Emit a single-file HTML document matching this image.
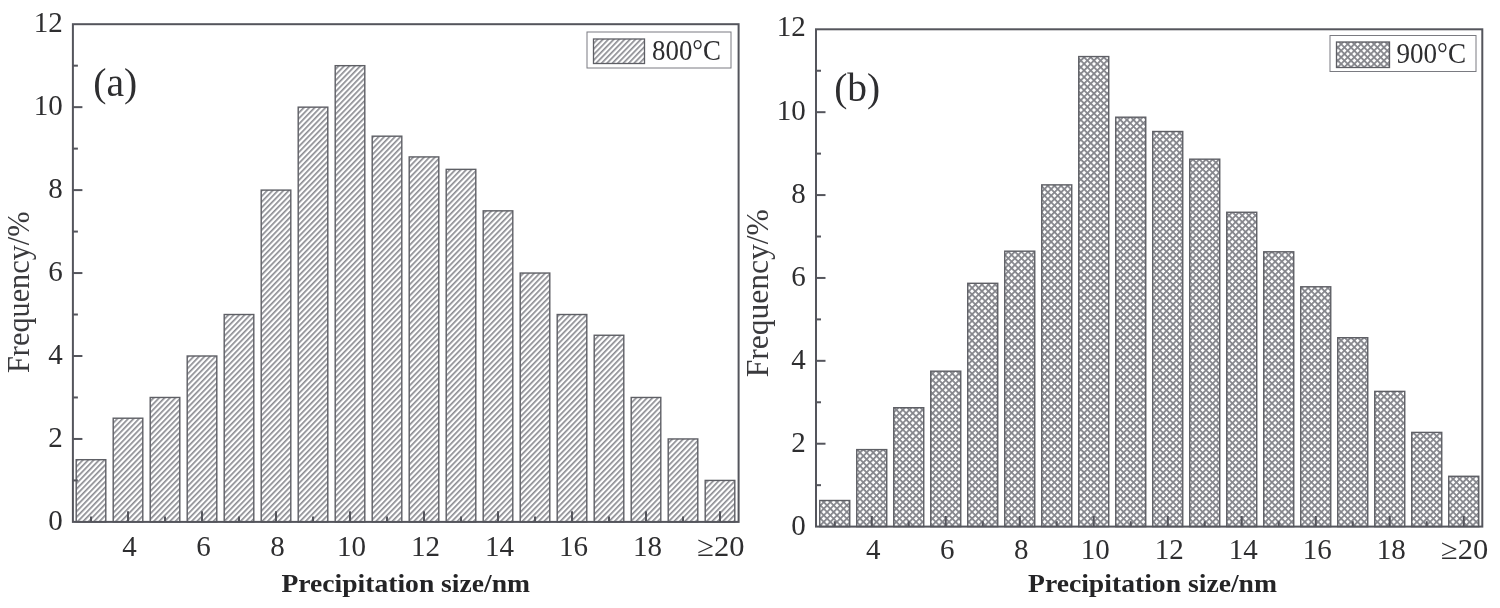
<!DOCTYPE html>
<html lang="en"><head><meta charset="utf-8"><title>Precipitation size distribution</title>
<style>
html,body{margin:0;padding:0;background:#fff;}
body{width:1500px;height:608px;overflow:hidden;}
svg{display:block;}
text{font-family:"Liberation Serif","Times New Roman",serif;fill:#2e2e30;}
.tk{font-size:29px;}
.lg{font-size:29.5px;}
.pl{font-size:40.5px;}
.xt{font-size:26px;font-weight:bold;fill:#242426;}
.yt{font-size:30.5px;fill:#3a3a3d;}
</style></head><body>
<svg width="1500" height="608" viewBox="0 0 1500 608">
<defs>
<pattern id="ha" width="3.9" height="3.9" patternUnits="userSpaceOnUse" patternTransform="rotate(-46)">
<rect width="3.9" height="3.9" fill="#fff"/><rect x="0" y="0" width="3.9" height="1.65" fill="#8a8b91"/>
</pattern>
<pattern id="hb" width="4.66" height="4.66" patternUnits="userSpaceOnUse" patternTransform="rotate(45)">
<rect width="4.66" height="4.66" fill="#fff"/><rect x="0" y="0" width="4.66" height="1.75" fill="#84858b"/><rect x="0" y="0" width="1.75" height="4.66" fill="#84858b"/>
</pattern>
</defs>
<rect width="1500" height="608" fill="#fff"/>
<g id="chart-a">
<rect x="76.20" y="459.69" width="29.60" height="62.21" fill="url(#ha)" stroke="#5e5f65" stroke-width="1.4"/>
<rect x="113.20" y="418.21" width="29.60" height="103.69" fill="url(#ha)" stroke="#5e5f65" stroke-width="1.4"/>
<rect x="150.20" y="397.47" width="29.60" height="124.43" fill="url(#ha)" stroke="#5e5f65" stroke-width="1.4"/>
<rect x="187.20" y="356.00" width="29.60" height="165.90" fill="url(#ha)" stroke="#5e5f65" stroke-width="1.4"/>
<rect x="224.20" y="314.52" width="29.60" height="207.38" fill="url(#ha)" stroke="#5e5f65" stroke-width="1.4"/>
<rect x="261.20" y="190.10" width="29.60" height="331.80" fill="url(#ha)" stroke="#5e5f65" stroke-width="1.4"/>
<rect x="298.20" y="107.15" width="29.60" height="414.75" fill="url(#ha)" stroke="#5e5f65" stroke-width="1.4"/>
<rect x="335.20" y="65.67" width="29.60" height="456.23" fill="url(#ha)" stroke="#5e5f65" stroke-width="1.4"/>
<rect x="372.20" y="136.18" width="29.60" height="385.72" fill="url(#ha)" stroke="#5e5f65" stroke-width="1.4"/>
<rect x="409.20" y="156.92" width="29.60" height="364.98" fill="url(#ha)" stroke="#5e5f65" stroke-width="1.4"/>
<rect x="446.20" y="169.36" width="29.60" height="352.54" fill="url(#ha)" stroke="#5e5f65" stroke-width="1.4"/>
<rect x="483.20" y="210.84" width="29.60" height="311.06" fill="url(#ha)" stroke="#5e5f65" stroke-width="1.4"/>
<rect x="520.20" y="273.05" width="29.60" height="248.85" fill="url(#ha)" stroke="#5e5f65" stroke-width="1.4"/>
<rect x="557.20" y="314.52" width="29.60" height="207.38" fill="url(#ha)" stroke="#5e5f65" stroke-width="1.4"/>
<rect x="594.20" y="335.26" width="29.60" height="186.64" fill="url(#ha)" stroke="#5e5f65" stroke-width="1.4"/>
<rect x="631.20" y="397.47" width="29.60" height="124.43" fill="url(#ha)" stroke="#5e5f65" stroke-width="1.4"/>
<rect x="668.20" y="438.95" width="29.60" height="82.95" fill="url(#ha)" stroke="#5e5f65" stroke-width="1.4"/>
<rect x="705.20" y="480.42" width="29.60" height="41.48" fill="url(#ha)" stroke="#5e5f65" stroke-width="1.4"/>
<rect x="72.9" y="24.2" width="665.7" height="497.7" fill="none" stroke="#54555c" stroke-width="2"/>
<line x1="72.9" x2="77.9" y1="480.42" y2="480.42" stroke="#54555c" stroke-width="2"/>
<line x1="72.9" x2="82.4" y1="438.95" y2="438.95" stroke="#54555c" stroke-width="2"/>
<line x1="72.9" x2="77.9" y1="397.47" y2="397.47" stroke="#54555c" stroke-width="2"/>
<line x1="72.9" x2="82.4" y1="356.00" y2="356.00" stroke="#54555c" stroke-width="2"/>
<line x1="72.9" x2="77.9" y1="314.52" y2="314.52" stroke="#54555c" stroke-width="2"/>
<line x1="72.9" x2="82.4" y1="273.05" y2="273.05" stroke="#54555c" stroke-width="2"/>
<line x1="72.9" x2="77.9" y1="231.57" y2="231.57" stroke="#54555c" stroke-width="2"/>
<line x1="72.9" x2="82.4" y1="190.10" y2="190.10" stroke="#54555c" stroke-width="2"/>
<line x1="72.9" x2="77.9" y1="148.62" y2="148.62" stroke="#54555c" stroke-width="2"/>
<line x1="72.9" x2="82.4" y1="107.15" y2="107.15" stroke="#54555c" stroke-width="2"/>
<line x1="72.9" x2="77.9" y1="65.67" y2="65.67" stroke="#54555c" stroke-width="2"/>
<line x1="91.00" x2="91.00" y1="521.9" y2="516.5" stroke="#54555c" stroke-width="2"/>
<line x1="128.00" x2="128.00" y1="521.9" y2="511.29999999999995" stroke="#54555c" stroke-width="2"/>
<line x1="165.00" x2="165.00" y1="521.9" y2="516.5" stroke="#54555c" stroke-width="2"/>
<line x1="202.00" x2="202.00" y1="521.9" y2="511.29999999999995" stroke="#54555c" stroke-width="2"/>
<line x1="239.00" x2="239.00" y1="521.9" y2="516.5" stroke="#54555c" stroke-width="2"/>
<line x1="276.00" x2="276.00" y1="521.9" y2="511.29999999999995" stroke="#54555c" stroke-width="2"/>
<line x1="313.00" x2="313.00" y1="521.9" y2="516.5" stroke="#54555c" stroke-width="2"/>
<line x1="350.00" x2="350.00" y1="521.9" y2="511.29999999999995" stroke="#54555c" stroke-width="2"/>
<line x1="387.00" x2="387.00" y1="521.9" y2="516.5" stroke="#54555c" stroke-width="2"/>
<line x1="424.00" x2="424.00" y1="521.9" y2="511.29999999999995" stroke="#54555c" stroke-width="2"/>
<line x1="461.00" x2="461.00" y1="521.9" y2="516.5" stroke="#54555c" stroke-width="2"/>
<line x1="498.00" x2="498.00" y1="521.9" y2="511.29999999999995" stroke="#54555c" stroke-width="2"/>
<line x1="535.00" x2="535.00" y1="521.9" y2="516.5" stroke="#54555c" stroke-width="2"/>
<line x1="572.00" x2="572.00" y1="521.9" y2="511.29999999999995" stroke="#54555c" stroke-width="2"/>
<line x1="609.00" x2="609.00" y1="521.9" y2="516.5" stroke="#54555c" stroke-width="2"/>
<line x1="646.00" x2="646.00" y1="521.9" y2="511.29999999999995" stroke="#54555c" stroke-width="2"/>
<line x1="683.00" x2="683.00" y1="521.9" y2="516.5" stroke="#54555c" stroke-width="2"/>
<line x1="720.00" x2="720.00" y1="521.9" y2="511.29999999999995" stroke="#54555c" stroke-width="2"/>
<text x="62.7" y="530.20" text-anchor="end" class="tk">0</text>
<text x="62.7" y="447.25" text-anchor="end" class="tk">2</text>
<text x="62.7" y="364.30" text-anchor="end" class="tk">4</text>
<text x="62.7" y="281.35" text-anchor="end" class="tk">6</text>
<text x="62.7" y="198.40" text-anchor="end" class="tk">8</text>
<text x="62.7" y="115.45" text-anchor="end" class="tk">10</text>
<text x="62.7" y="31.70" text-anchor="end" class="tk">12</text>
<text x="129.50" y="555.5" text-anchor="middle" class="tk">4</text>
<text x="203.50" y="555.5" text-anchor="middle" class="tk">6</text>
<text x="277.50" y="555.5" text-anchor="middle" class="tk">8</text>
<text x="351.50" y="555.5" text-anchor="middle" class="tk">10</text>
<text x="425.50" y="555.5" text-anchor="middle" class="tk">12</text>
<text x="499.50" y="555.5" text-anchor="middle" class="tk">14</text>
<text x="573.50" y="555.5" text-anchor="middle" class="tk">16</text>
<text x="647.50" y="555.5" text-anchor="middle" class="tk">18</text>
<text x="697.20" y="555.5" class="tk" textLength="47.2" lengthAdjust="spacingAndGlyphs">≥20</text>
<rect x="587" y="32" width="144" height="36" fill="#fff" stroke="#7a7b81" stroke-width="1"/>
<rect x="593.5" y="39" width="51.0" height="24.5" fill="url(#ha)" stroke="#5e5f65" stroke-width="1.3"/>
<text x="652" y="59.7" class="lg" textLength="69" lengthAdjust="spacingAndGlyphs">800°C</text>
<text x="93.2" y="95.5" class="pl" textLength="44" lengthAdjust="spacingAndGlyphs">(a)</text>
<text x="281.5" y="592" class="xt" textLength="248.5" lengthAdjust="spacingAndGlyphs">Precipitation size/nm</text>
<text transform="translate(28.6,373) rotate(-90)" class="yt" textLength="161.5" lengthAdjust="spacingAndGlyphs">Frequency/%</text>
</g>
<g id="chart-b">
<rect x="819.75" y="500.49" width="30.00" height="26.11" fill="url(#hb)" stroke="#5e5f65" stroke-width="1.4"/>
<rect x="856.75" y="449.60" width="30.00" height="77.00" fill="url(#hb)" stroke="#5e5f65" stroke-width="1.4"/>
<rect x="893.75" y="407.70" width="30.00" height="118.90" fill="url(#hb)" stroke="#5e5f65" stroke-width="1.4"/>
<rect x="930.75" y="371.19" width="30.00" height="155.41" fill="url(#hb)" stroke="#5e5f65" stroke-width="1.4"/>
<rect x="967.75" y="283.30" width="30.00" height="243.30" fill="url(#hb)" stroke="#5e5f65" stroke-width="1.4"/>
<rect x="1004.75" y="251.18" width="30.00" height="275.42" fill="url(#hb)" stroke="#5e5f65" stroke-width="1.4"/>
<rect x="1041.75" y="184.87" width="30.00" height="341.73" fill="url(#hb)" stroke="#5e5f65" stroke-width="1.4"/>
<rect x="1078.75" y="56.57" width="30.00" height="470.03" fill="url(#hb)" stroke="#5e5f65" stroke-width="1.4"/>
<rect x="1115.75" y="117.20" width="30.00" height="409.40" fill="url(#hb)" stroke="#5e5f65" stroke-width="1.4"/>
<rect x="1152.75" y="131.50" width="30.00" height="395.10" fill="url(#hb)" stroke="#5e5f65" stroke-width="1.4"/>
<rect x="1189.75" y="159.18" width="30.00" height="367.42" fill="url(#hb)" stroke="#5e5f65" stroke-width="1.4"/>
<rect x="1226.75" y="212.26" width="30.00" height="314.34" fill="url(#hb)" stroke="#5e5f65" stroke-width="1.4"/>
<rect x="1263.75" y="251.80" width="30.00" height="274.80" fill="url(#hb)" stroke="#5e5f65" stroke-width="1.4"/>
<rect x="1300.75" y="286.78" width="30.00" height="239.82" fill="url(#hb)" stroke="#5e5f65" stroke-width="1.4"/>
<rect x="1337.75" y="337.71" width="30.00" height="188.89" fill="url(#hb)" stroke="#5e5f65" stroke-width="1.4"/>
<rect x="1374.75" y="391.38" width="30.00" height="135.22" fill="url(#hb)" stroke="#5e5f65" stroke-width="1.4"/>
<rect x="1411.75" y="432.40" width="30.00" height="94.20" fill="url(#hb)" stroke="#5e5f65" stroke-width="1.4"/>
<rect x="1448.75" y="476.29" width="30.00" height="50.31" fill="url(#hb)" stroke="#5e5f65" stroke-width="1.4"/>
<rect x="816.0" y="29.3" width="666.3" height="497.3" fill="none" stroke="#54555c" stroke-width="2"/>
<line x1="816.0" x2="821.0" y1="485.16" y2="485.16" stroke="#54555c" stroke-width="2"/>
<line x1="816.0" x2="825.5" y1="443.72" y2="443.72" stroke="#54555c" stroke-width="2"/>
<line x1="816.0" x2="821.0" y1="402.27" y2="402.27" stroke="#54555c" stroke-width="2"/>
<line x1="816.0" x2="825.5" y1="360.83" y2="360.83" stroke="#54555c" stroke-width="2"/>
<line x1="816.0" x2="821.0" y1="319.39" y2="319.39" stroke="#54555c" stroke-width="2"/>
<line x1="816.0" x2="825.5" y1="277.95" y2="277.95" stroke="#54555c" stroke-width="2"/>
<line x1="816.0" x2="821.0" y1="236.51" y2="236.51" stroke="#54555c" stroke-width="2"/>
<line x1="816.0" x2="825.5" y1="195.07" y2="195.07" stroke="#54555c" stroke-width="2"/>
<line x1="816.0" x2="821.0" y1="153.62" y2="153.62" stroke="#54555c" stroke-width="2"/>
<line x1="816.0" x2="825.5" y1="112.18" y2="112.18" stroke="#54555c" stroke-width="2"/>
<line x1="816.0" x2="821.0" y1="70.74" y2="70.74" stroke="#54555c" stroke-width="2"/>
<line x1="834.75" x2="834.75" y1="526.6" y2="521.2" stroke="#54555c" stroke-width="2"/>
<line x1="871.75" x2="871.75" y1="526.6" y2="516.0" stroke="#54555c" stroke-width="2"/>
<line x1="908.75" x2="908.75" y1="526.6" y2="521.2" stroke="#54555c" stroke-width="2"/>
<line x1="945.75" x2="945.75" y1="526.6" y2="516.0" stroke="#54555c" stroke-width="2"/>
<line x1="982.75" x2="982.75" y1="526.6" y2="521.2" stroke="#54555c" stroke-width="2"/>
<line x1="1019.75" x2="1019.75" y1="526.6" y2="516.0" stroke="#54555c" stroke-width="2"/>
<line x1="1056.75" x2="1056.75" y1="526.6" y2="521.2" stroke="#54555c" stroke-width="2"/>
<line x1="1093.75" x2="1093.75" y1="526.6" y2="516.0" stroke="#54555c" stroke-width="2"/>
<line x1="1130.75" x2="1130.75" y1="526.6" y2="521.2" stroke="#54555c" stroke-width="2"/>
<line x1="1167.75" x2="1167.75" y1="526.6" y2="516.0" stroke="#54555c" stroke-width="2"/>
<line x1="1204.75" x2="1204.75" y1="526.6" y2="521.2" stroke="#54555c" stroke-width="2"/>
<line x1="1241.75" x2="1241.75" y1="526.6" y2="516.0" stroke="#54555c" stroke-width="2"/>
<line x1="1278.75" x2="1278.75" y1="526.6" y2="521.2" stroke="#54555c" stroke-width="2"/>
<line x1="1315.75" x2="1315.75" y1="526.6" y2="516.0" stroke="#54555c" stroke-width="2"/>
<line x1="1352.75" x2="1352.75" y1="526.6" y2="521.2" stroke="#54555c" stroke-width="2"/>
<line x1="1389.75" x2="1389.75" y1="526.6" y2="516.0" stroke="#54555c" stroke-width="2"/>
<line x1="1426.75" x2="1426.75" y1="526.6" y2="521.2" stroke="#54555c" stroke-width="2"/>
<line x1="1463.75" x2="1463.75" y1="526.6" y2="516.0" stroke="#54555c" stroke-width="2"/>
<text x="805.8" y="534.90" text-anchor="end" class="tk">0</text>
<text x="805.8" y="452.02" text-anchor="end" class="tk">2</text>
<text x="805.8" y="369.13" text-anchor="end" class="tk">4</text>
<text x="805.8" y="286.25" text-anchor="end" class="tk">6</text>
<text x="805.8" y="203.37" text-anchor="end" class="tk">8</text>
<text x="805.8" y="120.48" text-anchor="end" class="tk">10</text>
<text x="805.8" y="36.00" text-anchor="end" class="tk">12</text>
<text x="873.25" y="558.5" text-anchor="middle" class="tk">4</text>
<text x="947.25" y="558.5" text-anchor="middle" class="tk">6</text>
<text x="1021.25" y="558.5" text-anchor="middle" class="tk">8</text>
<text x="1095.25" y="558.5" text-anchor="middle" class="tk">10</text>
<text x="1169.25" y="558.5" text-anchor="middle" class="tk">12</text>
<text x="1243.25" y="558.5" text-anchor="middle" class="tk">14</text>
<text x="1317.25" y="558.5" text-anchor="middle" class="tk">16</text>
<text x="1391.25" y="558.5" text-anchor="middle" class="tk">18</text>
<text x="1440.95" y="558.5" class="tk" textLength="47.2" lengthAdjust="spacingAndGlyphs">≥20</text>
<rect x="1330" y="35.5" width="146" height="36.0" fill="#fff" stroke="#7a7b81" stroke-width="1"/>
<rect x="1336.5" y="42" width="53.0" height="25.5" fill="url(#hb)" stroke="#5e5f65" stroke-width="1.3"/>
<text x="1396.5" y="62.6" class="lg" textLength="69.5" lengthAdjust="spacingAndGlyphs">900°C</text>
<text x="834.2" y="100.6" class="pl" textLength="46" lengthAdjust="spacingAndGlyphs">(b)</text>
<text x="1028" y="592" class="xt" textLength="249" lengthAdjust="spacingAndGlyphs">Precipitation size/nm</text>
<text transform="translate(768.4,377.3) rotate(-90)" class="yt" textLength="168" lengthAdjust="spacingAndGlyphs">Frequency/%</text>
</g>
</svg>
</body></html>
